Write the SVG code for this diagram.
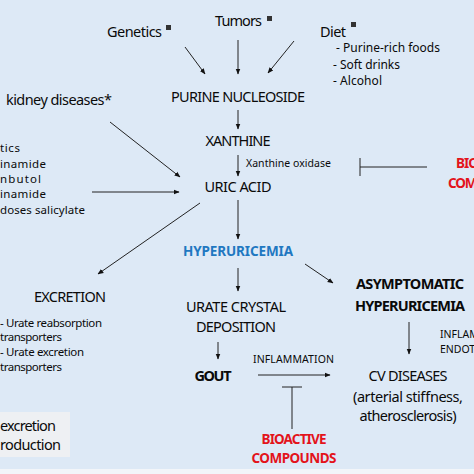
<svg xmlns="http://www.w3.org/2000/svg" width="474" height="474" viewBox="0 0 474 474">
<defs>
<marker id="ah" viewBox="0 0 10 10" refX="9" refY="5" markerWidth="6" markerHeight="6" orient="auto" markerUnits="userSpaceOnUse"><path d="M0,1 L10,5 L0,9 z" fill="#111"/></marker>
<style>
text{font-family:"Noto Sans","Open Sans","Liberation Sans",sans-serif;fill:#0a0a0a;}
.l{font-size:14.5px;}
.s{font-size:12px;}
.t{font-size:11.5px;}
.xs{font-size:10.5px;}
.b{font-weight:bold;}
.red{fill:#e3131b;font-weight:bold;font-size:13.5px;}
.blue{fill:#1f78c1;font-weight:bold;font-size:13.5px;}
.c{stroke:#222;stroke-width:1;fill:none;}
.a{marker-end:url(#ah);}
.sq{fill:#333;}
</style>
</defs>
<rect width="474" height="474" fill="#dde9f6"/>
<rect x="0" y="469" width="474" height="5" fill="#f2f5f9"/>
<rect x="0" y="412" width="70" height="45" fill="#eef0f3"/>

<g id="connectors">
<line class="c a" x1="185" y1="47" x2="205" y2="74"/>
<line class="c a" x1="238" y1="40" x2="238" y2="74"/>
<line class="c a" x1="294" y1="41" x2="268" y2="73"/>
<line class="c a" x1="238" y1="110" x2="238" y2="129"/>
<line class="c a" x1="238" y1="155" x2="238" y2="176"/>
<line class="c a" x1="110" y1="122" x2="180" y2="177"/>
<line class="c a" x1="92" y1="192" x2="179" y2="192"/>
<line class="c a" x1="238" y1="200" x2="238" y2="239"/>
<line class="c a" x1="200" y1="203" x2="98" y2="274"/>
<line class="c a" x1="238" y1="268" x2="238" y2="291"/>
<line class="c a" x1="305" y1="264" x2="333" y2="283"/>
<line class="c a" x1="218" y1="342" x2="218" y2="359"/>
<line class="c a" x1="258" y1="375" x2="330" y2="375"/>
<line class="c a" x1="409" y1="322" x2="409" y2="354"/>
<line class="c" x1="360" y1="167" x2="427" y2="167"/>
<line class="c" x1="360" y1="158" x2="360" y2="176"/>
<line class="c" x1="292" y1="387" x2="292" y2="429"/>
<line class="c" x1="282" y1="387" x2="302" y2="387"/>
</g>

<g id="genetics"><text class="l" x="107" y="37" textLength="55">Genetics</text><rect class="sq" x="166" y="25" width="5" height="5"/></g>
<g id="tumors"><text class="l" x="215" y="26" textLength="47">Tumors</text><rect class="sq" x="267" y="16" width="5" height="5"/></g>
<g id="diet"><text class="l" x="320" y="37" textLength="26">Diet</text><rect class="sq" x="351" y="22" width="5" height="5"/>
<text class="s" x="336" y="52" textLength="104">- Purine-rich foods</text>
<text class="s" x="333" y="69" textLength="67">- Soft drinks</text>
<text class="s" x="333" y="85" textLength="49">- Alcohol</text></g>
<g id="purine"><text class="l" x="238" y="102" text-anchor="middle" textLength="134">PURINE NUCLEOSIDE</text></g>
<g id="xanthine"><text class="l" x="238" y="146" text-anchor="middle" textLength="65">XANTHINE</text>
<text class="xs" x="246" y="167" textLength="85">Xanthine oxidase</text></g>
<g id="uric"><text class="l" x="238" y="192" text-anchor="middle" textLength="67">URIC ACID</text></g>
<g id="kidney"><text class="l" x="6" y="105" textLength="106">kidney diseases*</text></g>
<g id="drugs">
<text class="t" x="0" y="152" textLength="20">tics</text>
<text class="t" x="0" y="168" textLength="46">inamide</text>
<text class="t" x="0" y="183" textLength="41">nbutol</text>
<text class="t" x="0" y="198" textLength="46">inamide</text>
<text class="t" x="0" y="214" textLength="85">doses salicylate</text>
</g>
<g id="bioactive1"><text class="red" x="488" y="168" text-anchor="middle" textLength="64">BIOACTIVE</text>
<text class="red" x="488" y="188" text-anchor="middle" textLength="80">COMPOUNDS</text></g>
<g id="hyperuricemia"><text class="blue" x="238" y="256" text-anchor="middle" textLength="110">HYPERURICEMIA</text></g>
<g id="excretion"><text class="l" x="70" y="302" text-anchor="middle" textLength="72">EXCRETION</text>
<text class="t" x="0" y="327" textLength="102">- Urate reabsorption</text>
<text class="t" x="0" y="341" textLength="62">transporters</text>
<text class="t" x="0" y="356" textLength="84">- Urate excretion</text>
<text class="t" x="0" y="371" textLength="62">transporters</text></g>
<g id="urate"><text class="l" x="236" y="312" text-anchor="middle" textLength="100">URATE CRYSTAL</text>
<text class="l" x="236" y="332" text-anchor="middle" textLength="80">DEPOSITION</text></g>
<g id="gout"><text class="l b" x="213" y="381" text-anchor="middle" textLength="37">GOUT</text></g>
<g id="inflammation"><text class="xs" x="253" y="363" textLength="81">INFLAMMATION</text></g>
<g id="bioactive2"><text class="red" x="294" y="444" text-anchor="middle" textLength="65">BIOACTIVE</text>
<text class="red" x="294" y="463" text-anchor="middle" textLength="85">COMPOUNDS</text></g>
<g id="asymptomatic"><text class="l b" x="410" y="289" text-anchor="middle" textLength="108">ASYMPTOMATIC</text>
<text class="l b" x="410" y="311" text-anchor="middle" textLength="110">HYPERURICEMIA</text></g>
<g id="inflam2"><text class="xs" x="440" y="338">INFLAM</text>
<text class="xs" x="440" y="353">ENDOT</text></g>
<g id="cv"><text class="l" x="408" y="381" text-anchor="middle" textLength="79">CV DISEASES</text>
<text class="l" x="408" y="402" text-anchor="middle" textLength="110">(arterial stiffness,</text>
<text class="l" x="408" y="421" text-anchor="middle" textLength="97">atherosclerosis)</text></g>
<g id="legend"><text class="l" x="0" y="431" textLength="56">excretion</text>
<text class="l" x="0" y="450" textLength="61">roduction</text></g>
</svg>
